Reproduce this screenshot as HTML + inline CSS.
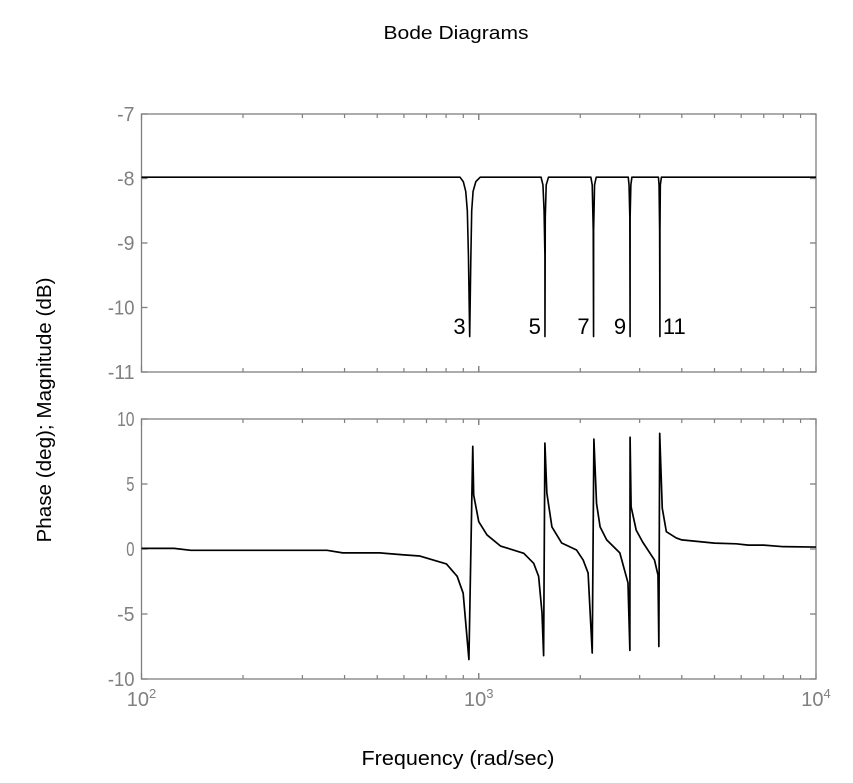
<!DOCTYPE html>
<html><head><meta charset="utf-8"><style>
html,body{margin:0;padding:0;background:#fff}
svg{display:block;font-family:"Liberation Sans",Arial,sans-serif}
</style></head><body>
<svg id="chart" width="853" height="783" viewBox="0 0 853 783" xmlns="http://www.w3.org/2000/svg">
<rect width="853" height="783" fill="#fff"/>
<text x="456" y="39" font-size="18" text-anchor="middle" textLength="145" lengthAdjust="spacingAndGlyphs" fill="#000">Bode Diagrams</text>
<text transform="translate(51,410) rotate(-90)" font-size="20" text-anchor="middle" textLength="265" lengthAdjust="spacingAndGlyphs" fill="#000">Phase (deg); Magnitude (dB)</text>
<text x="458" y="765" font-size="20" text-anchor="middle" textLength="193" lengthAdjust="spacingAndGlyphs" fill="#000">Frequency (rad/sec)</text>
<g id="g"></g>
</svg>
<script>
const magFreq=[100,880,900,915,925,932,940,947,953,962,980,1010,1530,1550,1562,1571,1571.5,1575,1585,1610,2150,2170,2185,2190,2191,2205,2230,2775,2790,2805,2810,2811,2825,2845,3410,3425,3438,3445,3446,3455,3480,10000];
const magDb=[-7.98,-7.98,-8.05,-8.2,-8.5,-9.2,-10.45,-9.3,-8.5,-8.2,-8.05,-7.98,-7.98,-8.1,-8.5,-9.2,-10.45,-8.6,-8.1,-7.98,-7.98,-8.1,-8.8,-10.45,-8.8,-8.1,-7.98,-7.98,-8.1,-8.6,-10.45,-8.6,-8.1,-7.98,-7.98,-8.1,-8.8,-10.45,-8.8,-8.1,-7.98,-7.98];
const phFreq=[100,125,140,355,395,510,600,669,802,863,899,935,960,966,1000,1058,1160,1360,1455,1505,1540,1557,1571,1592,1648,1762,1950,2040,2110,2170,2195,2235,2290,2395,2620,2770,2806,2810,2830,2930,3060,3320,3400,3420,3440,3500,3600,3850,4000,5000,5800,6300,7000,8000,10000];
const phDeg=[0.05,0.05,-0.1,-0.1,-0.3,-0.3,-0.45,-0.54,-1.15,-2.1,-3.4,-8.5,7.9,4.15,2.1,1.08,0.23,-0.33,-1.1,-2.1,-4.9,-8.2,8.15,4.3,1.7,0.46,-0.08,-0.85,-1.85,-8.0,8.45,3.5,1.7,0.7,-0.3,-2.6,-7.8,8.6,3.25,1.45,0.55,-0.85,-2,-7.5,8.9,3.15,1.33,0.85,0.7,0.45,0.4,0.3,0.3,0.18,0.15];
const harmonicLabels=["3","5","7","9","11"];
const harmonicFreq=[940,1571,2190,2810,3445];
const magTicks=[-7,-8,-9,-10,-11];
const phTicks=[10,5,0,-5,-10];
const xDecades=[2,3,4];

const NS="http://www.w3.org/2000/svg";
const g=document.getElementById('g');
const X0=141.5,X1=816;
const xs=f=>X0+(Math.log10(f)-2)/2*(X1-X0);
const magTop=114,magBot=372,phTop=419,phBot=679;
const ym=v=>magTop+(-7-v)/4*(magBot-magTop);
const yp=v=>phTop+(10-v)/20*(phBot-phTop);
function el(t,a,p){const e=document.createElementNS(NS,t);for(const k in a)e.setAttribute(k,a[k]);(p||g).appendChild(e);return e;}
const AX="#7f7f7f";
function axes(top,bot,ticks,yf,name){
  const r=el('rect',{x:X0,y:top,width:X1-X0,height:bot-top,fill:'none',stroke:AX,'stroke-width':1.3});
  
  
  ticks.forEach(v=>{const y=yf(v);
    el('line',{x1:X0,x2:X0+6,y1:y,y2:y,stroke:AX,'stroke-width':1.3});
    el('line',{x1:X1,x2:X1-6,y1:y,y2:y,stroke:AX,'stroke-width':1.3});
    const s=String(v);
    const t=el('text',{x:X0-7,y:y+7,'font-size':20,'text-anchor':'end',fill:'#808080',textLength:(s.length*9.2-1).toFixed(1),lengthAdjust:'spacingAndGlyphs'});
    
    
    t.textContent=s;});
  for(let d=2;d<4;d++)for(let m=1;m<=10;m++){const x=xs(m*Math.pow(10,d));const L=(m===1||m===10)?6:4;
    el('line',{x1:x,x2:x,y1:top,y2:top+L,stroke:AX,'stroke-width':1.2});
    el('line',{x1:x,x2:x,y1:bot,y2:bot-L,stroke:AX,'stroke-width':1.2});}
}
axes(magTop,magBot,magTicks,ym,'magnitude');
axes(phTop,phBot,phTicks,yp,'phase');
xDecades.forEach(d=>{const t=el('text',{x:xs(Math.pow(10,d)),y:706,'font-size':20,'text-anchor':'middle',fill:'#808080'});
  
  
  t.innerHTML='10<tspan dy="-8" font-size="13">'+d+'</tspan>';});
let p=magFreq.map((f,i)=>(i?'L':'M')+xs(f).toFixed(2)+' '+ym(magDb[i]).toFixed(2)).join(' ');
const ml=el('path',{d:p,fill:'none',stroke:'#000','stroke-width':1.6,'stroke-linejoin':'round'});


p=phFreq.map((f,i)=>(i?'L':'M')+xs(f).toFixed(2)+' '+yp(phDeg[i]).toFixed(2)).join(' ');
const pl=el('path',{d:p,fill:'none',stroke:'#000','stroke-width':1.7,'stroke-linejoin':'round'});


harmonicLabels.forEach((s,i)=>{const x=xs(harmonicFreq[i]);const isLast=i===harmonicLabels.length-1;
  const t=el('text',{x:isLast?x+3:x-4,y:334,'font-size':22,'text-anchor':isLast?'start':'end',fill:'#000'});
  
  
  t.textContent=s;});
</script>
</body></html>
